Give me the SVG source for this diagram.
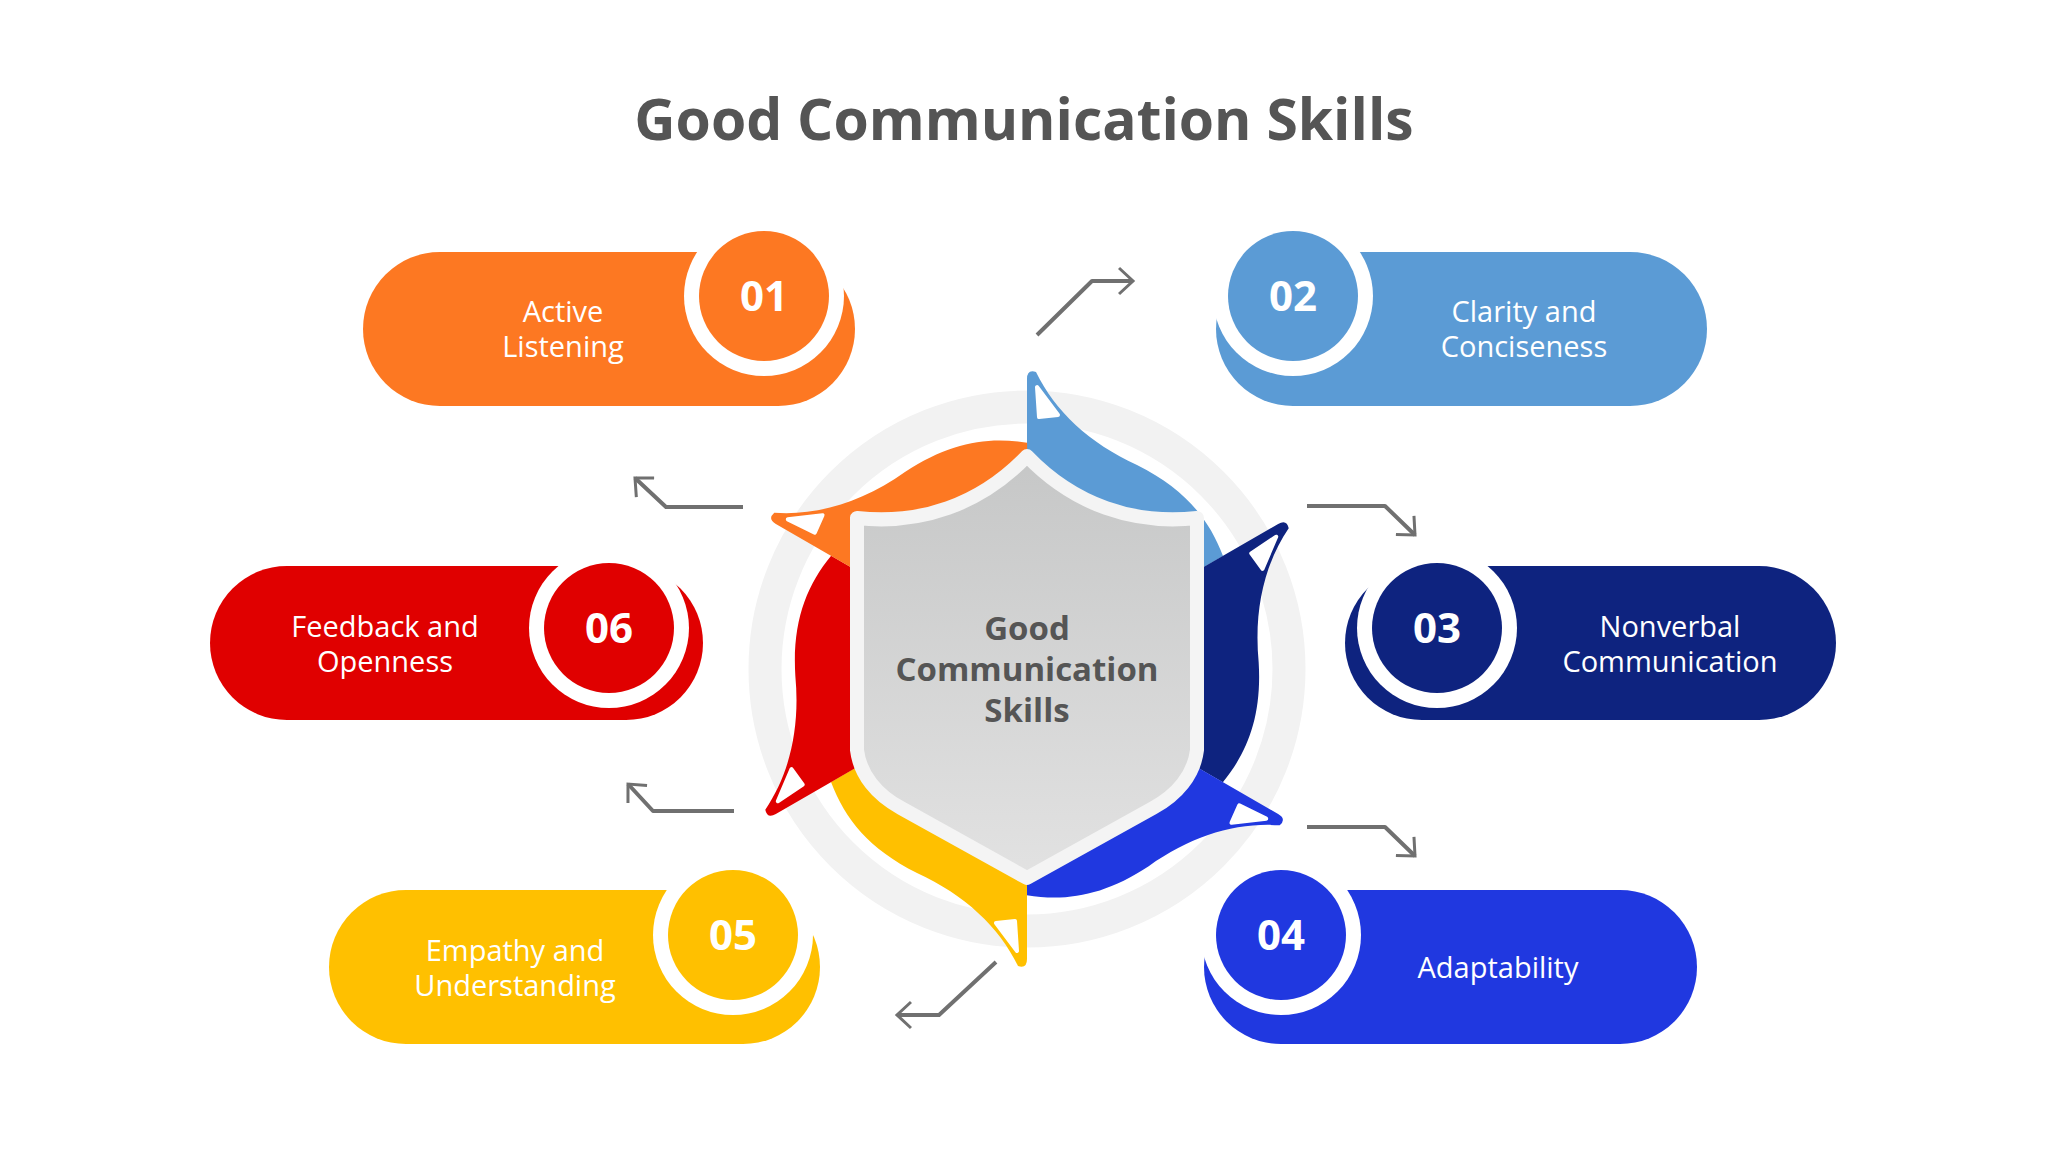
<svg xmlns="http://www.w3.org/2000/svg" width="2048" height="1152" viewBox="0 0 2048 1152">
<defs>
<linearGradient id="sg" x1="0" y1="0" x2="0" y2="1"><stop offset="0" stop-color="#c6c7c7"/><stop offset="1" stop-color="#e2e2e2"/></linearGradient>
<marker id="ah" markerUnits="userSpaceOnUse" markerWidth="30" markerHeight="30" refX="15" refY="15" orient="auto" viewBox="0 0 30 30"><polyline points="1,2 15,15 1,28" fill="none" stroke="#707070" stroke-width="3"/></marker>
<path id="petal" d="M0,0 L0,-290 Q0,-300 9,-297 C28,-258 62,-226 110,-204 C158,-180 182,-150 196,-113 Z"/>
<polygon id="tri" points="10,-282 12,-252 31,-254" fill="#fff" stroke="#fff" stroke-width="4" stroke-linejoin="round"/>
</defs>
<style>
.lbl{font-family:"Open Sans","Noto Sans",sans-serif;font-size:29px;fill:#fff;text-anchor:middle}
.num{font-family:"Open Sans","Noto Sans",sans-serif;font-size:42px;font-weight:bold;fill:#fff;text-anchor:middle}
.ttl{font-family:"Open Sans","Noto Sans",sans-serif;font-weight:bold;fill:#555;text-anchor:middle}
.con{fill:none;stroke:#707070;stroke-width:4;stroke-linejoin:round;marker-end:url(#ah)}
</style>
<rect width="2048" height="1152" fill="#fff"/>
<text class="ttl" x="1024" y="140" font-size="57">Good Communication Skills</text>

<g id="hub">
<circle cx="1027" cy="669" r="262" fill="none" stroke="#f2f2f2" stroke-width="33"/>
<g transform="translate(1027,669)">
<g transform="rotate(0)"><use href="#petal" fill="#5b9bd5"/><use href="#tri"/></g>
<g transform="rotate(60)"><use href="#petal" fill="#0e237f"/><use href="#tri"/></g>
<g transform="rotate(120)"><use href="#petal" fill="#2038e0"/><use href="#tri"/></g>
<g transform="rotate(180)"><use href="#petal" fill="#ffc000"/><use href="#tri"/></g>
<g transform="rotate(240)"><use href="#petal" fill="#e00000"/><use href="#tri"/></g>
<g transform="rotate(300)"><use href="#petal" fill="#fd7822"/><use href="#tri"/></g>
</g>
<path d="M1027,456 C980,505 920,525 857,518 L857,750 C860,775 877,795 901,808 L1027,878 L1153,808 C1177,795 1194,775 1197,750 L1197,518 C1134,525 1074,505 1027,456 Z" fill="url(#sg)" stroke="#f4f4f4" stroke-width="14" stroke-linejoin="round"/>
<text class="ttl" font-size="33" x="1027" y="640">Good</text>
<text class="ttl" font-size="33" x="1027" y="681">Communication</text>
<text class="ttl" font-size="33" x="1027" y="722">Skills</text>
</g>

<g id="n01">
<rect x="363" y="252" width="492" height="154" rx="77" fill="#fd7822"/>
<circle cx="764" cy="296" r="80" fill="#fff"/><circle cx="764" cy="296" r="65" fill="#fd7822"/>
<text class="num" x="764" y="311">01</text>
<text class="lbl" x="563" y="322">Active</text><text class="lbl" x="563" y="357">Listening</text>
</g>
<g id="n02">
<rect x="1216" y="252" width="491" height="154" rx="77" fill="#5b9bd5"/>
<circle cx="1293" cy="296" r="80" fill="#fff"/><circle cx="1293" cy="296" r="65" fill="#5b9bd5"/>
<text class="num" x="1293" y="311">02</text>
<text class="lbl" x="1524" y="322">Clarity and</text><text class="lbl" x="1524" y="357">Conciseness</text>
</g>
<g id="n03">
<rect x="1345" y="566" width="491" height="154" rx="77" fill="#0e237f"/>
<circle cx="1437" cy="628" r="80" fill="#fff"/><circle cx="1437" cy="628" r="65" fill="#0e237f"/>
<text class="num" x="1437" y="643">03</text>
<text class="lbl" x="1670" y="637">Nonverbal</text><text class="lbl" x="1670" y="672">Communication</text>
</g>
<g id="n04">
<rect x="1204" y="890" width="493" height="154" rx="77" fill="#2038e0"/>
<circle cx="1281" cy="935" r="80" fill="#fff"/><circle cx="1281" cy="935" r="65" fill="#2038e0"/>
<text class="num" x="1281" y="950">04</text>
<text class="lbl" x="1498" y="978">Adaptability</text>
</g>
<g id="n05">
<rect x="329" y="890" width="491" height="154" rx="77" fill="#ffc000"/>
<circle cx="733" cy="935" r="80" fill="#fff"/><circle cx="733" cy="935" r="65" fill="#ffc000"/>
<text class="num" x="733" y="950">05</text>
<text class="lbl" x="515" y="961">Empathy and</text><text class="lbl" x="515" y="996">Understanding</text>
</g>
<g id="n06">
<rect x="210" y="566" width="493" height="154" rx="77" fill="#e00000"/>
<circle cx="609" cy="628" r="80" fill="#fff"/><circle cx="609" cy="628" r="65" fill="#e00000"/>
<text class="num" x="609" y="643">06</text>
<text class="lbl" x="385" y="637">Feedback and</text><text class="lbl" x="385" y="672">Openness</text>
</g>

<g id="connectors">
<path class="con" d="M1037,335 L1092,281 L1133,281"/>
<path class="con" d="M1307,506 L1385,506 L1415,535"/>
<path class="con" d="M1307,827 L1385,827 L1415,856"/>
<path class="con" d="M996,962 L939,1015 L897,1015"/>
<path class="con" d="M734,811 L653,811 L628,784"/>
<path class="con" d="M743,507 L666,507 L635,478"/>
</g>
</svg>
